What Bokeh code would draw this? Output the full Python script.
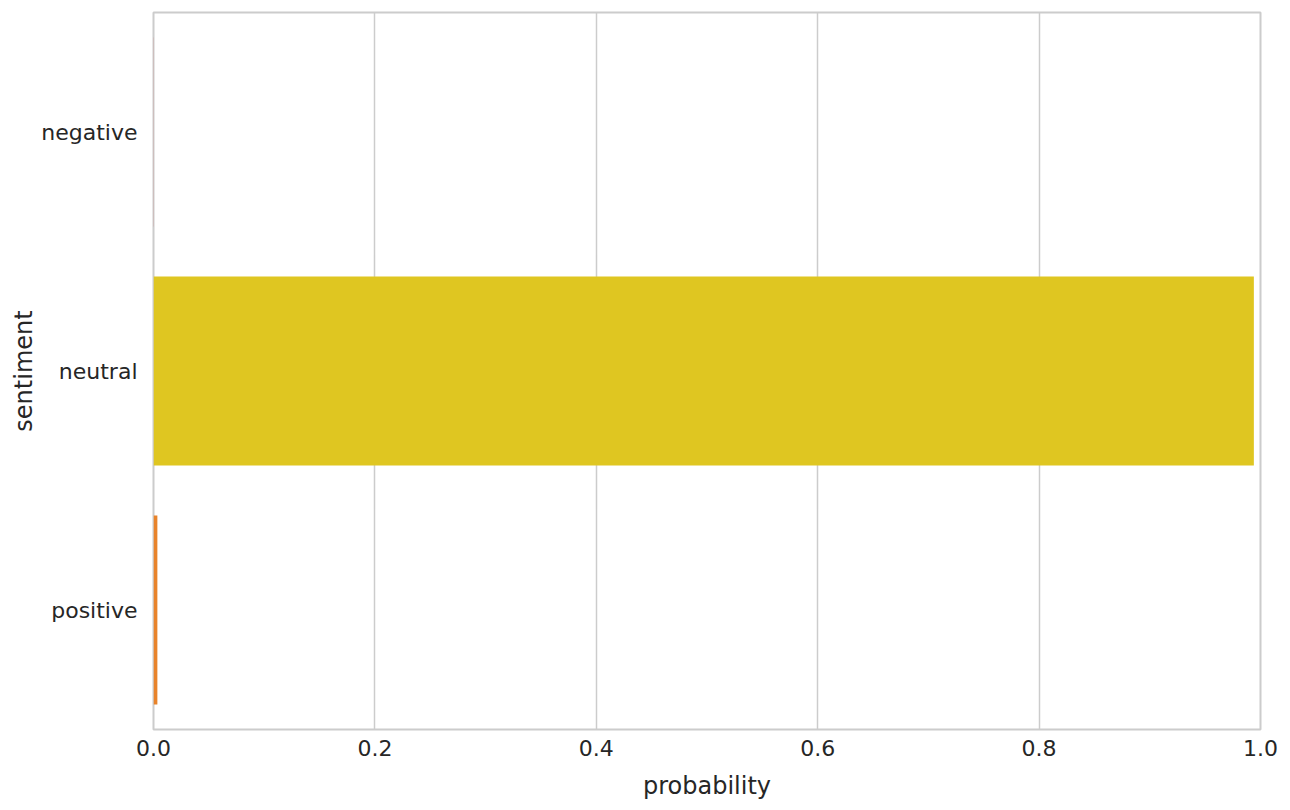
from bokeh.plotting import figure
from bokeh.models import ColumnDataSource, FactorRange, Range1d, FixedTicker, CustomJSTickFormatter
from bokeh.embed import file_html
from bokeh.resources import INLINE

# data
sentiments = ["negative", "neutral", "positive"]
probabilities = [0.0002, 0.994, 0.0035]
colors = ["#d9544a", "#dfc621", "#e8832a"]
x_ticks = [0.0, 0.2, 0.4, 0.6, 0.8, 1.0]

source = ColumnDataSource(data=dict(sentiment=sentiments, probability=probabilities, color=colors))

p = figure(width=1282, height=802, output_backend="svg", toolbar_location=None,
           y_range=FactorRange(factors=list(reversed(sentiments))),
           x_range=Range1d(0, 1),
           x_axis_label="probability", y_axis_label="sentiment")

p.hbar(y="sentiment", right="probability", left=0, height=0.79,
       fill_color="color", line_color=None, source=source)

p.min_border_left = 153
p.min_border_right = 22
p.min_border_top = 12
p.min_border_bottom = 71

p.outline_line_color = "#cccccc"
p.outline_line_width = 2
p.ygrid.grid_line_color = None
p.xgrid.grid_line_color = "#cccccc"
p.xgrid.grid_line_width = 1.5
p.xgrid.ticker = FixedTicker(ticks=x_ticks)

for ax in (p.xaxis, p.yaxis):
    ax.axis_line_color = None
    ax.major_tick_line_color = None
    ax.minor_tick_line_color = None
    ax.major_label_text_font = "DejaVu Sans"
    ax.major_label_text_font_size = "22px"
    ax.major_label_text_color = "#262626"
    ax.axis_label_text_font = "DejaVu Sans"
    ax.axis_label_text_font_size = "24px"
    ax.axis_label_text_font_style = "normal"
    ax.axis_label_text_color = "#262626"

p.xaxis.ticker = FixedTicker(ticks=x_ticks)
p.xaxis.formatter = CustomJSTickFormatter(code="return tick.toFixed(1);")
p.xaxis.major_label_standoff = 4
p.xaxis.axis_label_standoff = 13
p.yaxis.major_label_standoff = 10
p.yaxis.axis_label_standoff = 0

open("out.html", "w").write(file_html(p, INLINE))
